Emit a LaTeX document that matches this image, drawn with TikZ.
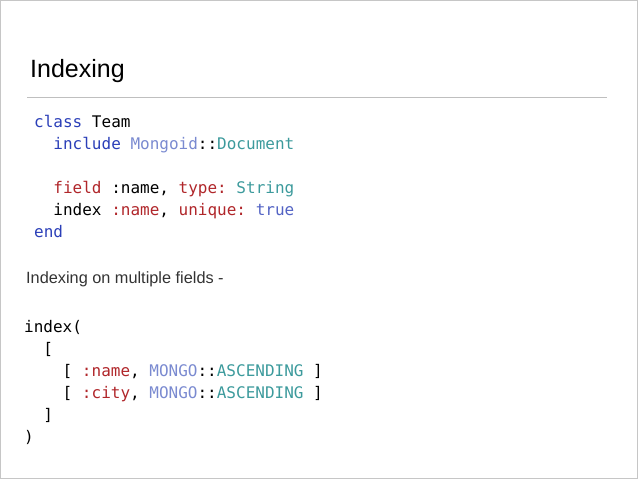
\documentclass[tikz,border=0pt]{standalone}
\usepackage{fontspec}
\setmainfont{Liberation Sans}
\setmonofont{DejaVu Sans Mono}
\definecolor{kw}{HTML}{2B3FB8}
\definecolor{cn}{HTML}{7A8AD0}
\definecolor{tl}{HTML}{3C9A9C}
\definecolor{rd}{HTML}{B0262A}
\definecolor{tr}{HTML}{5363C4}
\begin{document}
\begin{tikzpicture}[x=1pt,y=-1pt,
  code/.style={anchor=base west,inner sep=0pt,font=\ttfamily\fontsize{16}{18}\selectfont},
  txt/.style={anchor=base west,inner sep=0pt}]
\useasboundingbox (0,0) rectangle (638,479);
\draw[gray!45] (0.5,0.5) rectangle (637.5,478.5);
\node[txt,font=\fontsize{25}{28}\selectfont] (title) at (30,77) {Indexing};
\coordinate (r1) at (27,97); \coordinate (r2) at (607,97);
\draw[gray!50,line width=0.6pt] (r1) -- (r2);
\node[code] (l1) at (34,127) {\textcolor{kw}{class} Team};
\node[code] (l2) at (34,149) {\ \ \textcolor{kw}{include} \textcolor{cn}{Mongoid}::\textcolor{tl}{Document}};
\node[code] (l3) at (34,193) {\ \ \textcolor{rd}{field} :name, \textcolor{rd}{type:} \textcolor{tl}{String}};
\node[code] (l4) at (34,215) {\ \ index \textcolor{rd}{:name}, \textcolor{rd}{unique:} \textcolor{tr}{true}};
\node[code] (l5) at (34,237) {\textcolor{kw}{end}};
\node[txt,font=\fontsize{16.3}{18}\selectfont,text=black!80] (sub) at (26,283) {Indexing on multiple fields -};
\node[code] (m1) at (24,332) {index(};
\node[code] (m2) at (24,354) {\ \ [};
\node[code] (m3) at (24,376) {\ \ \ \ [ \textcolor{rd}{:name}, \textcolor{cn}{MONGO}::\textcolor{tl}{ASCENDING} ]};
\node[code] (m4) at (24,398) {\ \ \ \ [ \textcolor{rd}{:city}, \textcolor{cn}{MONGO}::\textcolor{tl}{ASCENDING} ]};
\node[code] (m5) at (24,420) {\ \ ]};
\node[code] (m6) at (24,442) {)};
\end{tikzpicture}
\end{document}
